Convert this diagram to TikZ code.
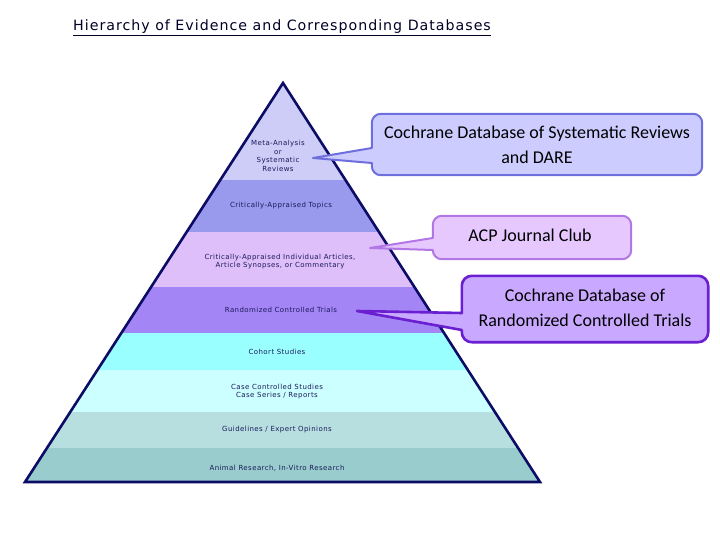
\documentclass[tikz,border=0pt]{standalone}
\usepackage{fontspec}
\setmainfont{DejaVu Sans}
\newfontfamily\callfont{Carlito}
\newfontfamily\titlefont[LetterSpace=7]{DejaVu Sans}
\newfontfamily\labfont[LetterSpace=6]{DejaVu Sans}
\usetikzlibrary{calc}
\definecolor{navy}{HTML}{0C0C66}
\definecolor{labtext}{HTML}{1A1A5A}
\definecolor{bandA}{HTML}{CDCDF7}
\definecolor{bandB}{HTML}{9999EE}
\definecolor{bandC}{HTML}{DFBFFA}
\definecolor{bandD}{HTML}{A385F5}
\definecolor{bandE}{HTML}{99FFFF}
\definecolor{bandF}{HTML}{CCFFFF}
\definecolor{bandG}{HTML}{B8DFE0}
\definecolor{bandH}{HTML}{99CCCC}
\definecolor{cAfill}{HTML}{CCCCFF}
\definecolor{cAline}{HTML}{6E6EDC}
\definecolor{cBfill}{HTML}{E6C8FF}
\definecolor{cBline}{HTML}{B277E6}
\definecolor{cCfill}{HTML}{C9A9FF}
\definecolor{cCline}{HTML}{6A1FD0}
\tikzset{
  lab/.style={text=labtext, font=\labfont\fontsize{7}{8.7}\selectfont, align=center, inner sep=0pt},
  calltext/.style={font=\callfont\fontsize{18}{24.5}\selectfont, text=black, align=center, inner sep=0pt},
  boxnode/.style={minimum width=#1, inner sep=0pt},
}
\begin{document}
\begin{tikzpicture}[x=1pt, y=-1pt]
\useasboundingbox (0,0) rectangle (720,540);
% title
\node[anchor=base west, inner sep=0pt, text=black!85!blue, font=\titlefont\fontsize{14.2}{16}\selectfont] (title) at (73,31) {\underline{Hierarchy of Evidence and Corresponding Databases}};
% pyramid bands
\coordinate (apex) at (283,83);
\coordinate (bl) at (25,482);
\coordinate (br) at (540,482);
\begin{scope}
\clip (apex) -- (br) -- (bl) -- cycle;
\fill[bandA] (0,70) rectangle (720,180);
\fill[bandB] (0,180) rectangle (720,232);
\fill[bandC] (0,232) rectangle (720,287);
\fill[bandD] (0,287) rectangle (720,333);
\fill[bandE] (0,333) rectangle (720,370);
\fill[bandF] (0,370) rectangle (720,412);
\fill[bandG] (0,412) rectangle (720,448);
\fill[bandH] (0,448) rectangle (720,490);
\end{scope}
\draw[navy, line width=2.6pt, line join=miter] (apex) -- (br) -- (bl) -- cycle;
% labels
\node[lab] (meta) at (278,156) {Meta-Analysis\\or\\Systematic\\Reviews};
\node[lab] (cat) at (281,206) {Critically-Appraised Topics};
\node[lab] (caia) at (280,261.5) {Critically-Appraised Individual Articles,\\Article Synopses, or Commentary};
\node[lab] (rct) at (281,310) {Randomized Controlled Trials};
\node[lab] (cohort) at (277,352) {Cohort Studies};
\node[lab] (case) at (277,391.5) {Case Controlled Studies\\Case Series / Reports};
\node[lab] (guide) at (277,430) {Guidelines / Expert Opinions};
\node[lab] (animal) at (277,468) {Animal Research, In-Vitro Research};
% callout 1
\node[boxnode=330pt, minimum height=61pt] (c1) at (537,144.5) {};
\coordinate (t1) at (313,158);
\filldraw[fill=cAfill, draw=cAline, line width=2pt, line join=round]
  ($(c1.west)+(0,3.5)$) [rounded corners=9pt] -- (c1.north west) -- (c1.north east) -- (c1.south east) -- (c1.south west) [sharp corners] -- ($(c1.west)+(0,18.5)$) -- (t1) -- cycle;
\node[calltext] at (537,145) {Cochrane Database of Systematic Reviews\\and DARE};
% callout 2
\node[boxnode=198pt, minimum height=43pt] (c2) at (532,237.5) {};
\coordinate (t2) at (370,248);
\filldraw[fill=cBfill, draw=cBline, line width=2pt, line join=round]
  ($(c2.west)+(0,0.5)$) [rounded corners=9pt] -- (c2.north west) -- (c2.north east) -- (c2.south east) -- (c2.south west) [sharp corners] -- ($(c2.west)+(0,12.5)$) -- (t2) -- cycle;
\node[calltext] at (530,235) {ACP Journal Club};
% callout 3
\node[boxnode=246pt, minimum height=66pt] (c3) at (585,309) {};
\coordinate (t3) at (357,311);
\filldraw[fill=cCfill, draw=cCline, line width=2.6pt, line join=round]
  ($(c3.west)+(0,4)$) [rounded corners=10pt] -- (c3.north west) -- (c3.north east) -- (c3.south east) -- (c3.south west) [sharp corners] -- ($(c3.west)+(0,21)$) -- (t3) -- cycle;
\node[calltext] at (585,308) {Cochrane Database of\\Randomized Controlled Trials};
\end{tikzpicture}
\end{document}
